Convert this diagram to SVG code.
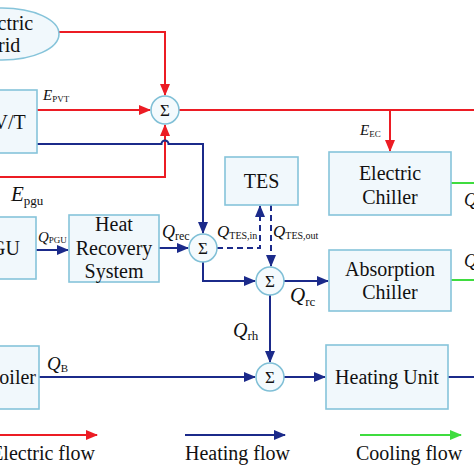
<svg xmlns="http://www.w3.org/2000/svg" width="474" height="474" viewBox="0 0 474 474" font-family="Liberation Serif, Times New Roman, serif">
<style>
.box{fill:#f1f8fc;stroke:#86c4da;stroke-width:1.6}
.sum{fill:#f4fafd;stroke:#7fbfd6;stroke-width:1.5}
text{font-family:'Liberation Serif','Times New Roman',serif}
.t{font-size:20px;fill:#111;text-anchor:middle}
.s{font-size:17px;fill:#111;text-anchor:middle}
.m{font-style:italic;fill:#111}
.sub{font-style:normal}
.e{fill:none;stroke:#ec1c24;stroke-width:2}
.h{fill:none;stroke:#1b2a8a;stroke-width:2}
.c{fill:none;stroke:#3fdc3f;stroke-width:2}
.d{stroke-dasharray:6,4}
</style>
<defs>
<marker id="ar" markerUnits="userSpaceOnUse" markerWidth="12" markerHeight="10" refX="11" refY="5" orient="auto"><path d="M0,0 L12,5 L0,10 z" fill="#ec1c24"/></marker>
<marker id="ab" markerUnits="userSpaceOnUse" markerWidth="12" markerHeight="10" refX="11" refY="5" orient="auto"><path d="M0,0 L12,5 L0,10 z" fill="#1b2a8a"/></marker>
<marker id="ag" markerUnits="userSpaceOnUse" markerWidth="12" markerHeight="10" refX="11" refY="5" orient="auto"><path d="M0,0 L12,5 L0,10 z" fill="#3fdc3f"/></marker>
</defs>
<rect width="474" height="474" fill="#fff"/>

<g id="connectors">
<path class="e" d="M59,32 H165 V95" marker-end="url(#ar)"/>
<path class="e" d="M37,110 H150" marker-end="url(#ar)"/>
<path class="e" d="M0,177 H165 V125" marker-end="url(#ar)"/>
<path class="e" d="M179,110 H474"/>
<path class="e" d="M390,110 V151" marker-end="url(#ar)"/>
<path class="h" d="M37,144 H161.5 a3.5,3.5 0 0 1 7,0 H203 V233" marker-end="url(#ab)"/>
<path class="h" d="M36,250 H68" marker-end="url(#ab)"/>
<path class="h" d="M159,248 H188" marker-end="url(#ab)"/>
<path class="h d" d="M217,248 H260 V206" marker-end="url(#ab)"/>
<path class="h d" d="M271,205 V266" marker-end="url(#ab)"/>
<path class="h" d="M203,262 V281 H255" marker-end="url(#ab)"/>
<path class="h" d="M284,281 H328" marker-end="url(#ab)"/>
<path class="h" d="M270,295 V362" marker-end="url(#ab)"/>
<path class="h" d="M39,377 H255" marker-end="url(#ab)"/>
<path class="h" d="M284,377 H325" marker-end="url(#ab)"/>
<path class="h" d="M448,377 H474"/>
<path class="c" d="M451,183 H474"/>
<path class="c" d="M451,280 H474"/>
</g>

<g id="grid"><ellipse cx="2" cy="34" rx="57" ry="26" class="box"/><text class="t" x="2" y="30">Electric</text><text class="t" x="2" y="52">Grid</text></g>
<g id="pvt"><rect x="-40" y="90" width="77" height="63" class="box"/><text class="t" x="4" y="129">PV/T</text></g>
<g id="pgu"><rect x="-40" y="217" width="76" height="62" class="box"/><text class="t" x="0" y="255">PGU</text></g>
<g id="hrs"><rect x="69" y="215" width="90" height="67" class="box"/><text class="t" x="114" y="231">Heat</text><text class="t" x="114" y="255">Recovery</text><text class="t" x="114" y="278">System</text></g>
<g id="boiler"><rect x="-40" y="346" width="79" height="63" class="box"/><text class="t" x="11" y="384">Boiler</text></g>
<g id="tes"><rect x="225" y="157" width="73" height="48" class="box"/><text class="t" x="261.5" y="188">TES</text></g>
<g id="ec"><rect x="329" y="152" width="122" height="63" class="box"/><text class="t" x="390" y="180">Electric</text><text class="t" x="390" y="204">Chiller</text></g>
<g id="ac"><rect x="329" y="250" width="122" height="61" class="box"/><text class="t" x="390" y="276">Absorption</text><text class="t" x="390" y="299">Chiller</text></g>
<g id="hu"><rect x="326" y="345" width="122" height="64" class="box"/><text class="t" x="387" y="384">Heating Unit</text></g>
<g id="sum1"><circle cx="165" cy="110" r="14" class="sum"/><text class="s" x="165" y="116">Σ</text></g>
<g id="sum2"><circle cx="203" cy="248" r="14" class="sum"/><text class="s" x="203" y="254">Σ</text></g>
<g id="sum3"><circle cx="270" cy="281" r="14" class="sum"/><text class="s" x="270" y="287">Σ</text></g>
<g id="sum4"><circle cx="270" cy="377" r="14" class="sum"/><text class="s" x="270" y="383">Σ</text></g>

<g id="labels">
<text class="m" x="43" y="100" font-size="15">E<tspan class="sub" font-size="9" dy="2">PVT</tspan></text>
<text class="m" x="11" y="201" font-size="21">E<tspan class="sub" font-size="13" dy="4">pgu</tspan></text>
<text class="m" x="38" y="242" font-size="15">Q<tspan class="sub" font-size="9" dy="1">PGU</tspan></text>
<text class="m" x="162" y="238" font-size="18">Q<tspan class="sub" font-size="12" dy="2">rec</tspan></text>
<text class="m" x="217" y="237" font-size="17">Q<tspan class="sub" font-size="10" dy="2">TES,in</tspan></text>
<text class="m" x="273" y="237" font-size="17">Q<tspan class="sub" font-size="10" dy="2">TES,out</tspan></text>
<text class="m" x="360" y="135" font-size="15">E<tspan class="sub" font-size="9" dy="2">EC</tspan></text>
<text class="m" x="290" y="302" font-size="21">Q<tspan class="sub" font-size="13" dy="4">rc</tspan></text>
<text class="m" x="233" y="337" font-size="20">Q<tspan class="sub" font-size="13" dy="3">rh</tspan></text>
<text class="m" x="47" y="370" font-size="19">Q<tspan class="sub" font-size="11" dy="2">B</tspan></text>
<text class="m" x="464" y="206" font-size="18">Q</text>
<text class="m" x="464" y="267" font-size="18">Q</text>
</g>

<g id="legend">
<path class="e" d="M0,435 H97" marker-end="url(#ar)"/>
<text class="t" x="95" y="460" style="text-anchor:end">Electric flow</text>
<path class="h" d="M185,435 H285" marker-end="url(#ab)"/>
<text class="t" x="185" y="460" style="text-anchor:start">Heating flow</text>
<path class="c" d="M360,435 H461" marker-end="url(#ag)"/>
<text class="t" x="356" y="460" style="text-anchor:start">Cooling flow</text>
</g>
</svg>
